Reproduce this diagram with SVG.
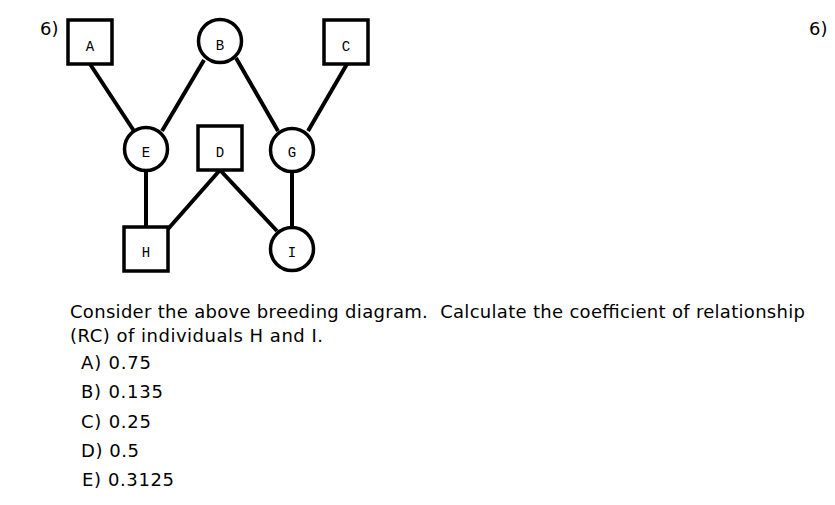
<svg xmlns="http://www.w3.org/2000/svg" width="835" height="505" viewBox="0 0 835 505">
<style>
.lnk{stroke:#000;stroke-width:4;fill:none}
.nd{fill:#fff;stroke:#000;stroke-width:3.5}
.lb{font-family:"Liberation Mono","DejaVu Sans Mono",monospace;font-size:14px;text-anchor:middle;fill:#000}
.tx{font-family:"DejaVu Sans","Liberation Sans",sans-serif;font-size:18px;fill:#000}
</style>
<rect width="835" height="505" fill="#fff"/>
<text class="tx" x="40" y="35">6)</text>
<text class="tx" x="809" y="35">6)</text>
<g id="connectors">
<line class="lnk" x1="90" y1="64" x2="134" y2="131"/>
<line class="lnk" x1="204" y1="60" x2="162" y2="131"/>
<line class="lnk" x1="236" y1="58" x2="278" y2="131"/>
<line class="lnk" x1="347" y1="64" x2="308" y2="131"/>
<line class="lnk" x1="146" y1="171" x2="146" y2="228"/>
<line class="lnk" x1="220" y1="170" x2="168" y2="229"/>
<line class="lnk" x1="220" y1="170" x2="277" y2="231"/>
<line class="lnk" x1="292" y1="172" x2="292" y2="228"/>
</g>
<g id="A"><rect class="nd" x="68" y="20" width="44" height="44"/><text class="lb" x="90" y="51">A</text></g>
<g id="B"><circle class="nd" cx="220" cy="41" r="21.5"/><text class="lb" x="220" y="50">B</text></g>
<g id="C"><rect class="nd" x="324" y="20" width="44" height="44"/><text class="lb" x="346" y="51">C</text></g>
<g id="E"><circle class="nd" cx="146" cy="149" r="21.5"/><text class="lb" x="146" y="157">E</text></g>
<g id="D"><rect class="nd" x="198" y="126" width="44" height="44"/><text class="lb" x="220" y="157">D</text></g>
<g id="G"><circle class="nd" cx="292" cy="150" r="21.5"/><text class="lb" x="292" y="157">G</text></g>
<g id="H"><rect class="nd" x="124" y="227" width="44" height="44"/><text class="lb" x="146" y="257">H</text></g>
<g id="I"><circle class="nd" cx="292" cy="249" r="21.5"/><text class="lb" x="292" y="257">I</text></g>
<text class="tx" x="70" y="318" xml:space="preserve" textLength="735" lengthAdjust="spacing">Consider the above breeding diagram.  Calculate the coefficient of relationship</text>
<text class="tx" x="70" y="342" textLength="253" lengthAdjust="spacing">(RC) of individuals H and I.</text>
<text class="tx" x="81" y="369" textLength="70" lengthAdjust="spacing">A) 0.75</text>
<text class="tx" x="81" y="398" textLength="82" lengthAdjust="spacing">B) 0.135</text>
<text class="tx" x="81" y="428" textLength="70" lengthAdjust="spacing">C) 0.25</text>
<text class="tx" x="81" y="457" textLength="58" lengthAdjust="spacing">D) 0.5</text>
<text class="tx" x="82" y="486" textLength="92" lengthAdjust="spacing">E) 0.3125</text>
</svg>
